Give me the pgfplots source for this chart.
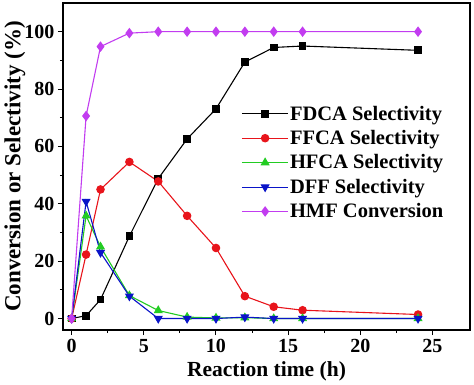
\documentclass[border=0pt]{standalone}
\usepackage{pgfplots}
\pgfplotsset{compat=1.18}
\usepackage{fontspec}
\setmainfont{Liberation Serif}
\definecolor{cred}{HTML}{E8141B}
\definecolor{cgreen}{HTML}{22CC22}
\definecolor{cblue}{HTML}{0A14C8}
\definecolor{cviolet}{HTML}{C23CF0}
\begin{document}
\begin{tikzpicture}
\begin{axis}[
  scale only axis, width=407pt, height=327pt,
  xmin=-0.6, xmax=27.6, ymin=-4, ymax=110,
  xtick={0,5,10,15,20,25}, ytick={0,20,40,60,80,100},
  minor x tick num=1, minor y tick num=1,
  tick align=outside, xtick pos=bottom, ytick pos=left,
  major tick length=5pt, minor tick length=3pt,
  tick style={black, line width=1pt},
  axis line style={line width=1.5pt},
  /pgf/number format/assume math mode=true,
  ticklabel style={font=\fontsize{20}{22}\selectfont\bfseries},
  xticklabel style={yshift=-1pt},
  xlabel={\textbf{Reaction time (h)}},
  ylabel={\textbf{Conversion or Selectivity (\%)}},
  xlabel style={font=\fontsize{21.5}{24}\selectfont\bfseries, at={(axis description cs:0.5,-0.125)}, anchor=center},
  ylabel style={font=\fontsize{23}{26}\selectfont\bfseries, at={(axis description cs:-0.118,0.5)}, anchor=center},
  legend style={draw=none, fill=none, at={(0.435,0.692)}, anchor=north west,
    font=\fontsize{20.5}{22}\selectfont\bfseries, row sep=6.7pt, inner sep=1pt,
    nodes={inner sep=1pt},
    /tikz/every even column/.append style={column sep=2pt}},
  legend cell align=left,
  legend image code/.code={\draw[mark repeat=2,mark phase=2] plot coordinates {(0cm,0cm)(0.82cm,0cm)(1.64cm,0cm)};},
  every axis plot/.append style={line width=1.1pt},
]
\coordinate (o) at (rel axis cs:0,0);
\addplot[black, mark=square*, mark size=3.3pt] coordinates {
(0,0)(1,1)(2,6.6)(4,28.7)(6,48.8)(8,62.6)(10,73.1)(12,89.4)(14,94.5)(16,95)(24,93.5)};
\addlegendentry{FDCA Selectivity}
\addplot[cred, mark=*, mark size=3.7pt] coordinates {
(0,0)(1,22.3)(2,45)(4,54.6)(6,47.8)(8,35.8)(10,24.6)(12,7.8)(14,4.1)(16,2.9)(24,1.4)};
\addlegendentry{FFCA Selectivity}
\addplot[cgreen, mark=triangle*, mark size=4.2pt] coordinates {
(0,0)(1,35.8)(2,25)(4,8)(6,2.8)(8,0.5)(10,0.2)(12,0.3)(14,0)(16,0)(24,0)};
\addlegendentry{HFCA Selectivity}
\addplot[cblue, mark=triangle*, mark options={rotate=180}, mark size=4.2pt] coordinates {
(0,0)(1,40.8)(2,23)(4,7.8)(6,0)(8,0)(10,0)(12,0.5)(14,0)(16,0)(24,0)};
\addlegendentry{DFF Selectivity}
\addplot[cviolet, mark=diamond*, mark size=4.4pt] coordinates {
(0,0)(1,70.6)(2,94.8)(4,99.5)(6,100)(8,100)(10,100)(12,100)(14,100)(16,100)(24,100)};
\addlegendentry{HMF Conversion}
\end{axis}
\pgfresetboundingbox
\path (o) ++(-63pt,-54pt) rectangle ++(474pt,384pt);
\end{tikzpicture}
\end{document}
